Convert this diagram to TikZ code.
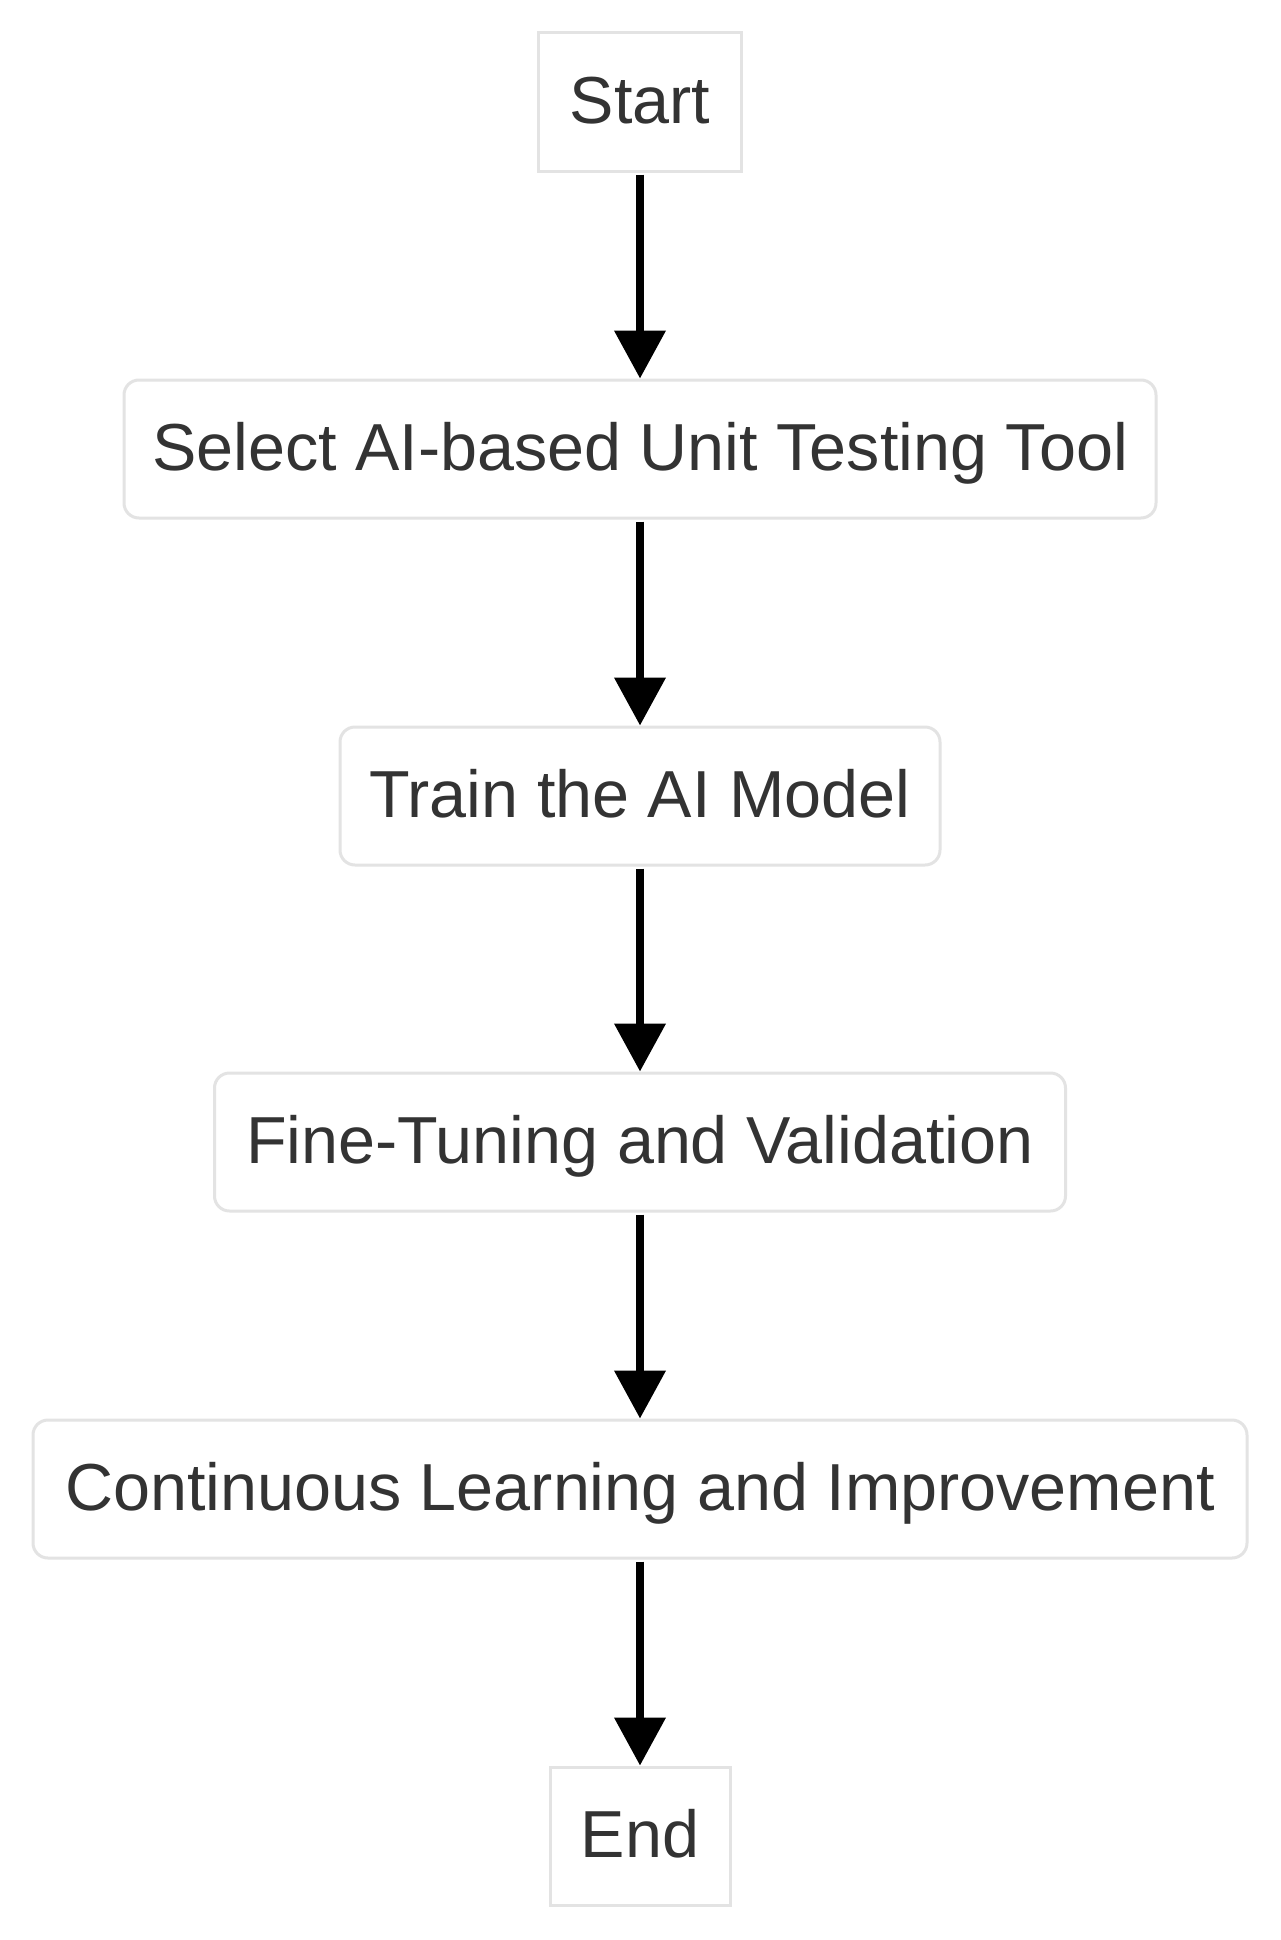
\documentclass[tikz,border=0pt]{standalone}
\usepackage{fontspec}
\setmainfont{Liberation Sans}
\usetikzlibrary{arrows.meta}
\definecolor{boxline}{HTML}{E3E3E3}
\definecolor{txt}{HTML}{333333}
\tikzset{
  base/.style={draw=boxline, line width=3pt, fill=white, text=txt, inner sep=0pt,
    minimum height=138pt, text height=56pt, text depth=13pt,
    font=\fontsize{66.5}{80}\selectfont},
  sharpbox/.style={base},
  roundbox/.style={base, rounded corners=15pt},
  flow/.style={line width=7.5pt, draw=black, -{Triangle[length=48pt,width=50pt]},
    shorten <=2pt, shorten >=0pt}
}
\begin{document}
\begin{tikzpicture}[x=1pt,y=-1pt]
\useasboundingbox (0,0) rectangle (1280,1940);
\fill[white] (0,0) rectangle (1280,1940);
\node[sharpbox, minimum width=203pt] (start) at (640,102) {Start};
\node[roundbox, minimum width=1032pt] (select) at (640,449) {Select AI-based Unit Testing Tool};
\node[roundbox, minimum width=600pt] (train) at (640,796) {Train the AI Model};
\node[roundbox, minimum width=851pt] (fine) at (640,1142) {Fine-Tuning and Validation};
\node[roundbox, minimum width=1214pt] (cont) at (640,1489) {Continuous Learning and Improvement};
\node[sharpbox, minimum width=180pt] (end) at (640,1836) {End};
\draw[flow] (start.south) -- (select.north);
\draw[flow] (select.south) -- (train.north);
\draw[flow] (train.south) -- (fine.north);
\draw[flow] (fine.south) -- (cont.north);
\draw[flow] (cont.south) -- (end.north);
\end{tikzpicture}
\end{document}
